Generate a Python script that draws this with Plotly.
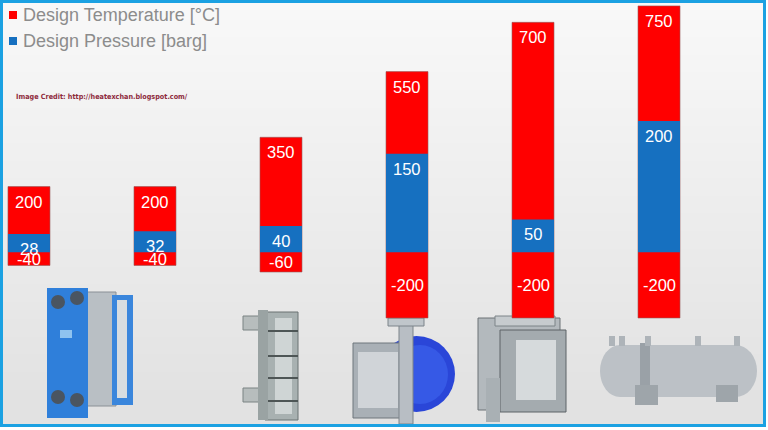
import plotly.graph_objects as go

# heat exchanger types, left to right
exchangers = ['Gasketed plate', 'Semi-welded plate', 'Welded plate',
              'Spiral', 'Plate block', 'Shell & tube']
temp_max = [200, 200, 350, 550, 700, 750]
temp_min = [-40, -40, -60, -200, -200, -200]
pressure = [28, 32, 40, 150, 50, 200]

RED = '#ff0000'
BLUE = '#1670c0'
W, H = 768, 430


def px(x, y):
    # pixel -> paper coords (margins are zero)
    return x / W, 1 - y / H


fig = go.Figure()

fig.add_bar(x=exchangers, y=[a - b for a, b in zip(temp_max, temp_min)], base=temp_min,
            marker=dict(color=RED, line=dict(width=1, color='rgba(150,90,90,0.6)')), width=1/3,
            name='Design Temperature [°C]', yaxis='y')
fig.add_bar(x=exchangers, y=pressure, marker=dict(color=BLUE, line=dict(width=0)), width=1/3,
            name='Design Pressure [barg]', yaxis='y2')

lbl = dict(color='white', size=16.5, family='Liberation Sans, Arial, sans-serif')
ann = []
for name, hi, lo, p in zip(exchangers, temp_max, temp_min, pressure):
    ann.append(dict(x=name, y=hi, yref='y', text=str(hi), yshift=-15, showarrow=False, font=lbl))
    ann.append(dict(x=name, y=lo / 2, yref='y', text=str(lo), showarrow=False, font=lbl))
    ann.append(dict(x=name, y=p, yref='y2', text=str(p), yshift=-15, showarrow=False, font=lbl))

# legend + credit as text
grey = '#8c8c8c'
for i, (txt, col) in enumerate([('Design Temperature [°C]', RED), ('Design Pressure [barg]', BLUE)]):
    yc = 15 + 26 * i
    x0, y0 = px(9, yc - 4)
    x1, y1 = px(17, yc + 4)
    fig.add_shape(type='rect', xref='paper', yref='paper', x0=x0, x1=x1, y0=y0, y1=y1,
                  fillcolor=col, line=dict(width=0))
    xa, ya = px(21, yc)
    ann.append(dict(xref='paper', yref='paper', x=xa, y=ya, xanchor='left', yanchor='middle',
                    text=txt, showarrow=False,
                    font=dict(color=grey, size=18, family='Liberation Sans, Arial, sans-serif')))
xa, ya = px(14, 96)
ann.append(dict(xref='paper', yref='paper', x=xa, y=ya, xanchor='left', yanchor='middle',
                text='<b>Image Credit: http://heatexchan.blogspot.com/</b>', showarrow=False,
                font=dict(color='#8e2a3c', size=7.2, family='DejaVu Sans Condensed, sans-serif')))

# background: soft vertical grey gradient inside a light blue frame
steps = 24
for k in range(steps):
    g = int(248 - (248 - 226) * k / (steps - 1))
    x0, y0 = px(2, 2 + k * (423 / steps))
    x1, y1 = px(764, 2 + (k + 1) * (423 / steps) + 1)
    fig.add_shape(type='rect', xref='paper', yref='paper', layer='below', x0=x0, x1=x1, y0=y0, y1=y1,
                  fillcolor=f'rgb({g},{g},{g})', line=dict(width=0))
x0, y0 = px(1.5, 1.5)
x1, y1 = px(764.5, 425.5)
fig.add_shape(type='rect', xref='paper', yref='paper', x0=x0, x1=x1, y0=y0, y1=y1,
              line=dict(color='#1ba1e2', width=3))


# rough sketches of the exchanger photos
def box(xa, ya, xb, yb, fill, line='rgba(0,0,0,0)', lw=0, kind='rect'):
    x0, y0 = px(xa, yb)
    x1, y1 = px(xb, ya)
    fig.add_shape(type=kind, xref='paper', yref='paper', x0=x0, x1=x1, y0=y0, y1=y1,
                  fillcolor=fill, line=dict(color=line, width=lw), layer='below')


# 1 gasketed plate
box(85, 292, 116, 406, '#b9bfc4', '#8a9096', 1)
box(112, 295, 133, 405, '#3a86dc')
box(117, 300, 127, 398, '#d8dde0')
box(47, 288, 88, 418, '#2f7fda')
for cx, cy in [(58, 302), (77, 298), (58, 397), (77, 400)]:
    box(cx - 7, cy - 7, cx + 7, cy + 7, '#4a5561', kind='circle')
box(60, 330, 72, 338, '#8fc3ef')
# 2 semi-welded plate
box(265, 312, 298, 420, '#a8b1b1', '#6b7373', 1)
box(275, 318, 292, 414, '#cfd5d5')
for cy in [330, 355, 377, 400]:
    box(265, cy, 298, cy + 2, '#4e5656')
box(243, 316, 262, 330, '#b7bdbd', '#7b8383', 1)
box(243, 388, 262, 402, '#b7bdbd', '#7b8383', 1)
box(258, 310, 268, 420, '#9aa3a3')
# 3 spiral
box(378, 336, 455, 412, '#2a46d8', kind='circle')
box(392, 345, 448, 404, '#3659e6', kind='circle')
box(353, 343, 404, 418, '#a9b0b6', '#6f767c', 1)
box(358, 352, 398, 408, '#d0d4d8')
box(399, 322, 413, 424, '#b8bec4', '#7d848a', 1)
box(388, 318, 424, 326, '#c0c6cb', '#7d848a', 1)
# 4 plate block
box(478, 318, 560, 410, '#b3b9bd', '#6d7377', 1)
box(500, 330, 566, 412, '#a4abaf', '#5d6367', 1)
box(516, 340, 556, 400, '#d6dadc')
box(486, 378, 500, 422, '#a9b0b4')
box(495, 316, 555, 326, '#c6cbce', '#7d8488', 1)
# 5 shell & tube
box(600, 345, 640, 397, '#bcc1c6', kind='circle')
box(714, 345, 757, 397, '#bcc1c6', kind='circle')
box(620, 345, 737, 397, '#bcc1c6')
box(640, 343, 650, 399, '#9aa1a7')
box(635, 385, 658, 405, '#9ea5aa')
box(716, 385, 738, 402, '#9ea5aa')
for cx in [612, 622, 648, 698, 737]:
    box(cx - 3, 336, cx + 3, 346, '#aeb4b9')

fig.update_layout(
    width=W, height=H,
    margin=dict(l=0, r=0, t=0, b=0),
    paper_bgcolor='white', plot_bgcolor='rgba(0,0,0,0)',
    barmode='overlay', showlegend=False,
    annotations=ann,
    xaxis=dict(range=[-0.23, 5.865], visible=False, fixedrange=True),
    yaxis=dict(range=[-541, 768], visible=False, fixedrange=True),
    yaxis2=dict(range=[-270.5, 384], visible=False, overlaying='y', fixedrange=True),
)

fig.write_html('out.html', config={'displayModeBar': False},
               post_script="document.body.style.margin='0';")
